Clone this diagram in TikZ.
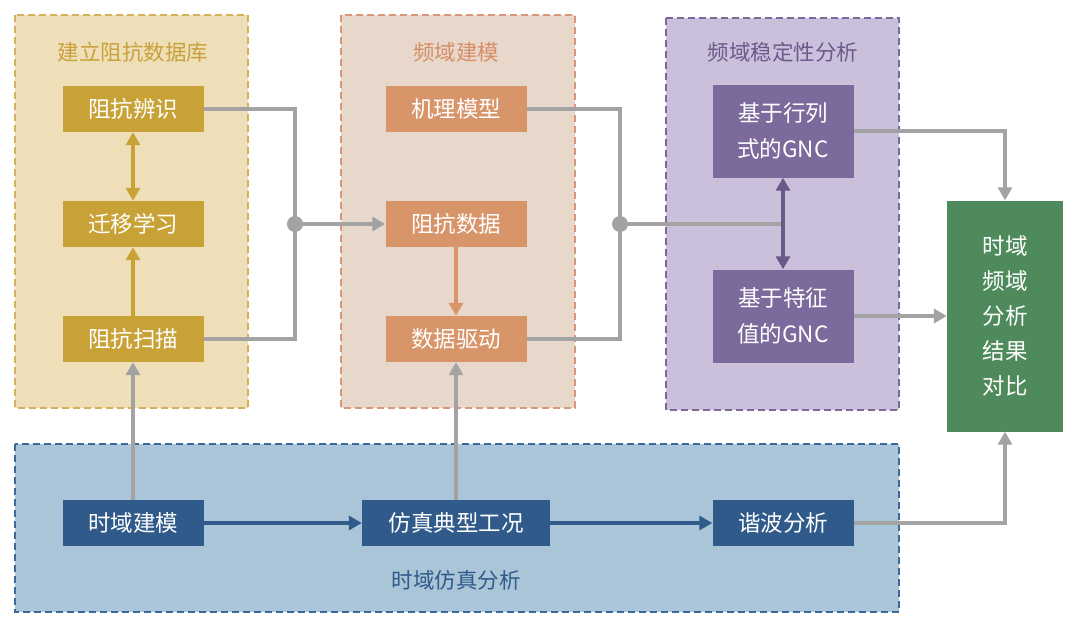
\documentclass[tikz,border=0pt]{standalone}
\usepackage{fontspec}
\setmainfont{Noto Sans CJK SC}
\usetikzlibrary{arrows.meta}
\definecolor{ybg}{HTML}{EEDFB8}\definecolor{ybd}{HTML}{D5B05A}\definecolor{yn}{HTML}{C8A236}\definecolor{yt}{HTML}{C9A13A}
\definecolor{obg}{HTML}{E8D8CC}\definecolor{obd}{HTML}{D9977A}\definecolor{on}{HTML}{D8956A}\definecolor{ot}{HTML}{D68E66}
\definecolor{pbg}{HTML}{CBC0DC}\definecolor{pbd}{HTML}{7A6A9A}\definecolor{pn}{HTML}{7B6A9B}\definecolor{pt}{HTML}{6A5A8A}
\definecolor{bbg}{HTML}{AAC5D8}\definecolor{bbd}{HTML}{3A6A9A}\definecolor{bn}{HTML}{2F5A8A}
\definecolor{gn}{HTML}{4F8A5D}\definecolor{gr}{HTML}{A3A3A3}
\begin{document}
\begin{tikzpicture}[x=1pt,y=-1pt,
 region/.style={line width=1.8pt,dash pattern=on 7pt off 4pt},
 nd/.style={minimum width=141pt,minimum height=46pt,inner sep=0pt,text=white,font=\fontsize{22.5}{27}\selectfont},
 ttl/.style={font=\fontsize{21.5}{25}\selectfont},
 con/.style={gr,line width=3.5pt},
 arr/.style={-{Triangle[length=13pt,width=14pt]}},
 darr/.style={{Triangle[length=13pt,width=14pt]}-{Triangle[length=13pt,width=14pt]}}]
\useasboundingbox (0,0) rectangle (1080,624);
\fill[white] (0,0) rectangle (1080,624);
\draw[region,fill=ybg,draw=ybd] (15,15) rectangle (248,408);
\draw[region,fill=obg,draw=obd] (341,15) rectangle (575,408);
\draw[region,fill=pbg,draw=pbd] (666,18) rectangle (899,410);
\draw[region,fill=bbg,draw=bbd] (15,444) rectangle (899,612);
\node[ttl,text=yt] (t1) at (133,52) {建立阻抗数据库};
\node[ttl,text=ot] (t2) at (456,52) {频域建模};
\node[ttl,text=pt] (t3) at (783,52) {频域稳定性分析};
\node[ttl,text=bn] (t4) at (456,580) {时域仿真分析};
\node[nd,fill=yn] (a1) at (133,109) {阻抗辨识};
\node[nd,fill=yn] (a2) at (133,224) {迁移学习};
\node[nd,fill=yn] (a3) at (133,339) {阻抗扫描};
\node[nd,fill=on] (b1) at (456,109) {机理模型};
\node[nd,fill=on] (b2) at (456,224) {阻抗数据};
\node[nd,fill=on] (b3) at (456,339) {数据驱动};
\node[nd,fill=pn,minimum height=93pt,align=center,font=\fontsize{22.5}{36}\selectfont] (c1) at (783,131) {基于行列\\式的GNC};
\node[nd,fill=pn,minimum height=93pt,align=center,font=\fontsize{22.5}{36}\selectfont] (c2) at (783,316) {基于特征\\值的GNC};
\node[nd,fill=gn,minimum width=116pt,minimum height=231pt,align=center,font=\fontsize{22.5}{35}\selectfont] (g) at (1005,316) {时域\\频域\\分析\\结果\\对比};
\node[nd,fill=bn] (d1) at (133,523) {时域建模};
\node[nd,fill=bn,minimum width=188pt] (d2) at (456,523) {仿真典型工况};
\node[nd,fill=bn] (d3) at (783,523) {谐波分析};
\coordinate (j1) at (295,224); \coordinate (j2) at (620,224);
\draw[con] (a1.east) -| (j1); \draw[con] (a3.east) -| (j1);
\draw[con,arr] (j1) -- (b2.west);
\fill[gr] (j1) circle (8pt);
\draw[con] (b1.east) -| (j2); \draw[con] (b3.east) -| (j2);
\draw[con] (j2) -- (783,224);
\fill[gr] (j2) circle (8pt);
\draw[pt,line width=3.5pt,darr] (c1.south) -- (c2.north);
\draw[yn,line width=3.5pt,darr] (a1.south) -- (a2.north);
\draw[yn,line width=3.5pt,arr] (a3.north) -- (a2.south);
\draw[on,line width=3.5pt,arr] (b2.south) -- (b3.north);
\draw[con,arr] (d1.north) -- (a3.south);
\draw[con,arr] (d2.north) -- (b3.south);
\draw[bn,line width=3.5pt,arr] (d1.east) -- (d2.west);
\draw[bn,line width=3.5pt,arr] (d2.east) -- (d3.west);
\draw[con,arr] (c1.east) -| (g.north);
\draw[con,arr] (c2.east) -- (g.west);
\draw[con,arr] (d3.east) -| (g.south);
\end{tikzpicture}
\end{document}
